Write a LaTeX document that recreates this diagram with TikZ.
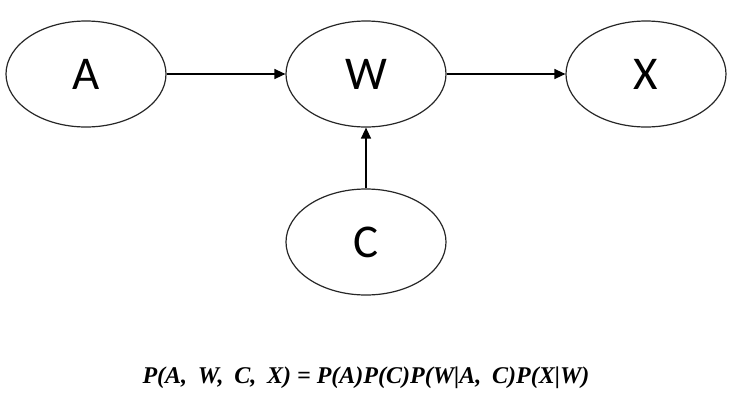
\documentclass[tikz,border=0pt]{standalone}
\usepackage{fontspec}
\setmainfont{Liberation Serif}
\newfontfamily\lblfont{Carlito}
\usetikzlibrary{shapes.geometric,arrows.meta}
\begin{document}
\begin{tikzpicture}[x=1pt,y=-1pt,
  nd/.style={ellipse,draw=black!85,line width=1.2pt,minimum width=160pt,minimum height=106pt,inner sep=0pt,font=\lblfont\fontsize{47}{47}\selectfont},
  arr/.style={-{Triangle[length=11pt,width=10pt]},line width=1.4pt}]
\useasboundingbox (0,0) rectangle (747,408);
\node[nd] (A) at (86,74) {A};
\node[nd] (W) at (366,74) {W};
\node[nd] (X) at (646,74) {X};
\node[nd] (C) at (366,242) {C};
\draw[arr] (A) -- (W);
\draw[arr] (W) -- (X);
\draw[arr] (C) -- (W);
\node (F) at (366,378) {\fontsize{24}{24}\selectfont\bfseries\itshape P(A,\hspace{0.2em} W,\hspace{0.2em} C,\hspace{0.2em} X) = P(A)P(C)P(W|A,\hspace{0.2em} C)P(X|W)};
\end{tikzpicture}
\end{document}
